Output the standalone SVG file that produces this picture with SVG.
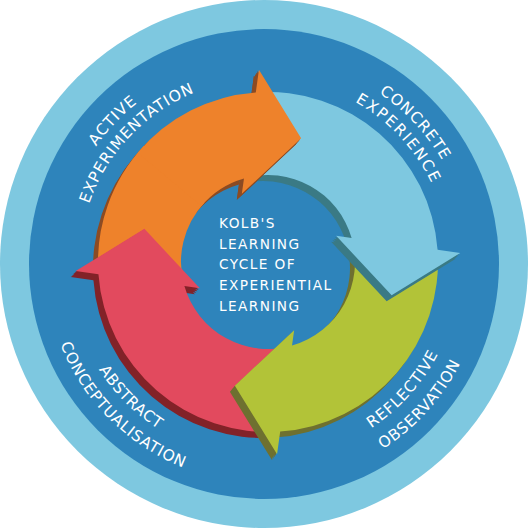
<svg xmlns="http://www.w3.org/2000/svg" xmlns:xlink="http://www.w3.org/1999/xlink" width="528" height="528" viewBox="0 0 528 528">
<style>
.lbl{font-family:"DejaVu Sans","Liberation Sans",sans-serif;font-size:15.5px;fill:#ffffff}
.ctr{font-family:"DejaVu Sans","Liberation Sans",sans-serif;font-size:13.7px;fill:#ffffff;letter-spacing:1.4px}
.or{fill:#ee822b}.ors{fill:#8c4b23}
.lb{fill:#7ec8e0}.lbs{fill:#3a7a85}
.gr{fill:#b2c338}.grs{fill:#6e7030}
.rd{fill:#e24a5e}.rds{fill:#822228}
</style>
<defs>
<path id="ar-or" d="M98.44,274.20 A170,170 0 0 1 255.80,92.44 L258.93,69.71 L301.13,138.36 L241.84,193.85 L243.98,178.38 A87,87 0 0 0 184.38,286.02 Z"/>
<path id="or-tail" d="M98.44,274.20 A170,170 0 0 1 143.67,146.06 L204.37,202.67 A87,87 0 0 0 184.38,286.02 Z"/>
<path id="or-head" d="M137.77,152.73 A170,170 0 0 1 255.80,92.44 L258.93,69.71 L301.13,138.36 L241.84,193.85 L243.98,178.38 A87,87 0 0 0 201.35,206.08 Z"/>
<polygon id="hd-or" points="258.93,69.71 301.13,138.36 241.84,193.85"/>
<path id="ar-lb" d="M255.80,92.44 A170,170 0 0 1 437.56,249.80 L460.29,252.93 L391.64,295.13 L336.15,235.84 L351.62,237.98 A87,87 0 0 0 243.98,178.38 Z"/>
<path id="ar-gr" d="M437.56,249.80 A170,170 0 0 1 280.20,431.56 L277.07,454.29 L234.87,385.64 L294.16,330.15 L292.02,345.62 A87,87 0 0 0 351.62,237.98 Z"/>
<path id="ar-rd" d="M280.20,431.56 A170,170 0 0 1 98.44,274.20 L75.71,271.07 L144.36,228.87 L199.85,288.16 L184.38,286.02 A87,87 0 0 0 292.02,345.62 Z"/>
<path id="tp-tr-o" d="M183.51,74.38 A206,206 0 0 1 447.55,357.52"/>
<path id="tp-tr-i" d="M191.32,92.79 A186,186 0 0 1 429.73,348.44"/>
<path id="tp-tl-o" d="M80.54,355.47 A205,205 0 0 1 345.74,76.00"/>
<path id="tp-tl-i" d="M98.44,346.55 A185,185 0 0 1 337.77,94.34"/>
<path id="tp-br-o" d="M181.59,467.98 A220,220 0 0 0 458.25,160.72"/>
<path id="tp-br-i" d="M190.58,445.73 A196,196 0 0 0 437.06,171.98"/>
<path id="tp-bl-o" d="M65.52,171.45 A219,219 0 0 0 356.55,462.48"/>
<path id="tp-bl-i" d="M86.36,181.17 A196,196 0 0 0 346.83,441.64"/>
</defs>
<g id="background">
<circle cx="264" cy="264" r="264" fill="#7ec8e0"/>
<circle cx="264" cy="264" r="235" fill="#2e84bb"/>
</g>
<g id="connectors">
<g id="arrow-orange-tail">
<use xlink:href="#ar-or" class="ors" transform="translate(-1.25,1.5)"/><use xlink:href="#ar-or" class="ors" transform="translate(-2.5,3)"/><use xlink:href="#ar-or" class="ors" transform="translate(-3.75,4.5)"/><use xlink:href="#ar-or" class="ors" transform="translate(-5,6)"/>
<use xlink:href="#or-tail" class="or"/>
</g>
<g id="arrow-red">
<use xlink:href="#ar-rd" class="rds" transform="translate(-1.25,1.5)"/><use xlink:href="#ar-rd" class="rds" transform="translate(-2.5,3)"/><use xlink:href="#ar-rd" class="rds" transform="translate(-3.75,4.5)"/><use xlink:href="#ar-rd" class="rds" transform="translate(-5,6)"/>
<use xlink:href="#ar-rd" class="rd"/>
</g>
<g id="arrow-green">
<use xlink:href="#ar-gr" class="grs" transform="translate(-1.25,1.5)"/><use xlink:href="#ar-gr" class="grs" transform="translate(-2.5,3)"/><use xlink:href="#ar-gr" class="grs" transform="translate(-3.75,4.5)"/><use xlink:href="#ar-gr" class="grs" transform="translate(-5,6)"/>
<use xlink:href="#ar-gr" class="gr"/>
</g>
<g id="arrow-lightblue">
<use xlink:href="#ar-lb" class="lbs" transform="translate(-1.25,1.5)"/><use xlink:href="#ar-lb" class="lbs" transform="translate(-2.5,3)"/><use xlink:href="#ar-lb" class="lbs" transform="translate(-3.75,4.5)"/><use xlink:href="#ar-lb" class="lbs" transform="translate(-5,6)"/>
<use xlink:href="#ar-lb" class="lb"/>
</g>
<g id="arrow-orange-head">
<use xlink:href="#hd-or" class="ors" transform="translate(-1.25,1.5)"/><use xlink:href="#hd-or" class="ors" transform="translate(-2.5,3)"/><use xlink:href="#hd-or" class="ors" transform="translate(-3.75,4.5)"/><use xlink:href="#hd-or" class="ors" transform="translate(-5,6)"/>
<use xlink:href="#or-head" class="or"/>
</g>
</g>
<g id="node-concrete">
<text class="lbl" text-anchor="middle" letter-spacing="1.1"><textPath xlink:href="#tp-tr-o" startOffset="50%">CONCRETE</textPath></text>
<text class="lbl" text-anchor="middle" letter-spacing="1.8"><textPath xlink:href="#tp-tr-i" startOffset="50%">EXPERIENCE</textPath></text>
</g>
<g id="node-active">
<text class="lbl" text-anchor="middle" letter-spacing="0.9"><textPath xlink:href="#tp-tl-o" startOffset="50%">ACTIVE</textPath></text>
<text class="lbl" text-anchor="middle" letter-spacing="0.9"><textPath xlink:href="#tp-tl-i" startOffset="50%">EXPERIMENTATION</textPath></text>
</g>
<g id="node-reflective">
<text class="lbl" text-anchor="middle" letter-spacing="0.85"><textPath xlink:href="#tp-br-i" startOffset="50%">REFLECTIVE</textPath></text>
<text class="lbl" text-anchor="middle" letter-spacing="0.8"><textPath xlink:href="#tp-br-o" startOffset="50%">OBSERVATION</textPath></text>
</g>
<g id="node-abstract">
<text class="lbl" text-anchor="middle" letter-spacing="0.5"><textPath xlink:href="#tp-bl-i" startOffset="50%">ABSTRACT</textPath></text>
<text class="lbl" text-anchor="middle" letter-spacing="0.75"><textPath xlink:href="#tp-bl-o" startOffset="50%">CONCEPTUALISATION</textPath></text>
</g>
<g id="node-center">
<text class="ctr" x="219" y="228">KOLB'S</text>
<text class="ctr" x="219" y="248.7">LEARNING</text>
<text class="ctr" x="219" y="269.4">CYCLE OF</text>
<text class="ctr" x="219" y="290.1">EXPERIENTIAL</text>
<text class="ctr" x="219" y="310.8">LEARNING</text>
</g>
</svg>
